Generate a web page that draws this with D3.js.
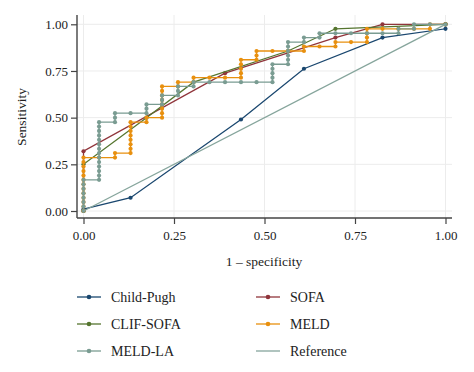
<!DOCTYPE html>
<html>
<head>
<meta charset="utf-8">
<script src="https://cdn.jsdelivr.net/npm/d3@7"></script>
<style>
  body { margin: 0; background: #fff; }
  svg text { font-family: "Liberation Serif", "DejaVu Serif", serif; fill: #222; }
</style>
</head>
<body>
<div id="chart"></div>
<script>
// ROC points, [1 - specificity, sensitivity]
let childPugh = [[0, 0.01], [0.13, 0.071], [0.435, 0.49], [0.609, 0.762], [0.826, 0.929], [1, 0.976], [1, 1]];

let sofa = [[0, 0], [0, 0.32], [0.391, 0.738], [0.696, 0.929], [0.826, 1], [1, 1]];

let clifSofa = [[0, 0], [0, 0.25], [0.174, 0.5], [0.304, 0.69], [0.565, 0.857], [0.696, 0.976], [1, 1]];

let meld = [
  [0, 0], [0, 0.024], [0, 0.048], [0, 0.071], [0, 0.095], [0, 0.119], [0, 0.143], [0, 0.167],
  [0, 0.19], [0, 0.214], [0, 0.238], [0, 0.262], [0, 0.286], [0.043, 0.286], [0.087, 0.286],
  [0.087, 0.31], [0.13, 0.31], [0.13, 0.333], [0.13, 0.357], [0.13, 0.381], [0.13, 0.405],
  [0.13, 0.429], [0.13, 0.452], [0.13, 0.476], [0.174, 0.476], [0.174, 0.5], [0.217, 0.5],
  [0.217, 0.524], [0.217, 0.548], [0.217, 0.571], [0.217, 0.595], [0.217, 0.619], [0.217, 0.643],
  [0.217, 0.667], [0.261, 0.667], [0.261, 0.69], [0.304, 0.69], [0.304, 0.714], [0.348, 0.714],
  [0.391, 0.714], [0.435, 0.714], [0.435, 0.738], [0.435, 0.762], [0.435, 0.786], [0.435, 0.81],
  [0.478, 0.81], [0.478, 0.833], [0.478, 0.857], [0.522, 0.857], [0.565, 0.857], [0.609, 0.857],
  [0.609, 0.881], [0.652, 0.881], [0.696, 0.881], [0.696, 0.905], [0.739, 0.905], [0.783, 0.905],
  [0.783, 0.929], [0.783, 0.952], [0.783, 0.976], [0.826, 0.976], [0.87, 0.976], [0.913, 0.976],
  [0.957, 0.976], [0.957, 1], [1, 1]
];

let meldLa = [
  [0, 0], [0, 0.024], [0, 0.048], [0, 0.071], [0, 0.095], [0, 0.119], [0, 0.143], [0, 0.167],
  [0.043, 0.167], [0.043, 0.19], [0.043, 0.214], [0.043, 0.238], [0.043, 0.262], [0.043, 0.286],
  [0.043, 0.31], [0.043, 0.333], [0.043, 0.357], [0.043, 0.381], [0.043, 0.405], [0.043, 0.429],
  [0.043, 0.452], [0.043, 0.476], [0.087, 0.476], [0.087, 0.5], [0.087, 0.524], [0.13, 0.524],
  [0.174, 0.524], [0.174, 0.548], [0.174, 0.571], [0.217, 0.571], [0.217, 0.595], [0.217, 0.619],
  [0.261, 0.619], [0.261, 0.643], [0.261, 0.667], [0.304, 0.667], [0.304, 0.69], [0.348, 0.69],
  [0.391, 0.69], [0.435, 0.69], [0.478, 0.69], [0.522, 0.69], [0.522, 0.714], [0.522, 0.738],
  [0.522, 0.762], [0.522, 0.786], [0.565, 0.786], [0.565, 0.81], [0.565, 0.833], [0.565, 0.857],
  [0.565, 0.881], [0.565, 0.905], [0.609, 0.905], [0.609, 0.929], [0.652, 0.929], [0.652, 0.952],
  [0.696, 0.952], [0.739, 0.952], [0.783, 0.952], [0.826, 0.952], [0.87, 0.952], [0.87, 0.976],
  [0.913, 0.976], [0.913, 1], [0.957, 1], [1, 1]
];

let reference = [[0, 0], [1, 1]];

let ticks = [0, 0.25, 0.5, 0.75, 1];

let series = [
  { name: "Child-Pugh", pts: childPugh, color: "#1a476f", marks: true },
  { name: "SOFA", pts: sofa, color: "#90353b", marks: true },
  { name: "CLIF-SOFA", pts: clifSofa, color: "#55752f", marks: true },
  { name: "MELD", pts: meld, color: "#e8900f", marks: true },
  { name: "MELD-LA", pts: meldLa, color: "#7a9c92", marks: true },
  { name: "Reference", pts: reference, color: "#86a59c", marks: false }
];

let W = 474, H = 372;

let svg = d3.select("#chart").append("svg")
  .attr("width", W)
  .attr("height", H);

let x = d3.scaleLinear().domain([0, 1]).range([83.5, 445.5]);
let y = d3.scaleLinear().domain([0, 1]).range([211, 24.3]);

let plotLeft = 77, plotRight = 452, plotTop = 15, plotBottom = 218;

// grid
svg.append("g").selectAll("line.gy").data(ticks).enter().append("line")
  .attr("x1", plotLeft).attr("x2", plotRight)
  .attr("y1", (d) => y(d)).attr("y2", (d) => y(d))
  .attr("stroke", "#ececec").attr("stroke-width", 1);
svg.append("g").selectAll("line.gx").data(ticks).enter().append("line")
  .attr("y1", plotTop).attr("y2", plotBottom)
  .attr("x1", (d) => x(d)).attr("x2", (d) => x(d))
  .attr("stroke", "#ececec").attr("stroke-width", 1);

// axes
let fmt = d3.format(".2f");
let yAxis = svg.append("g")
  .attr("transform", "translate(" + plotLeft + ",0)")
  .call(d3.axisLeft(y).tickValues(ticks).tickFormat(fmt).tickSizeOuter(0).tickSize(6).tickPadding(3));
let xAxis = svg.append("g")
  .attr("transform", "translate(0," + plotBottom + ")")
  .call(d3.axisBottom(x).tickValues(ticks).tickFormat(fmt).tickSizeOuter(0).tickSize(6).tickPadding(7));

[xAxis, yAxis].forEach((a) => {
  a.select(".domain").attr("stroke", "#444").attr("stroke-width", 1.4);
  a.selectAll(".tick line").attr("stroke", "#444").attr("stroke-width", 1.2);
  a.selectAll(".tick text").attr("font-size", 13).attr("font-family", "Liberation Serif").attr("fill", "#222");
});
yAxis.select(".domain").attr("d", "M0," + plotTop + "V" + plotBottom);
xAxis.select(".domain").attr("d", "M" + plotLeft + ",0H" + plotRight);

// axis titles
svg.append("text")
  .attr("transform", "translate(26,117) rotate(-90)")
  .attr("text-anchor", "middle")
  .attr("font-size", 13.5)
  .text("Sensitivity");
svg.append("text")
  .attr("x", 264).attr("y", 266)
  .attr("text-anchor", "middle")
  .attr("font-size", 13.5)
  .text("1 \u2013 specificity");

// curves
let line = d3.line().x((d) => x(d[0])).y((d) => y(d[1]));

series.forEach((s) => {
  let g = svg.append("g");
  g.append("path")
    .datum(s.pts)
    .attr("d", line)
    .attr("fill", "none")
    .attr("stroke", s.color)
    .attr("stroke-width", 1.3);
  if (s.marks) {
    g.selectAll("circle").data(s.pts).enter().append("circle")
      .attr("cx", (d) => x(d[0]))
      .attr("cy", (d) => y(d[1]))
      .attr("r", 2.1)
      .attr("fill", s.color);
  }
});

// legend
let legendX = [77, 256];
let legendY = [297, 324, 351];
series.forEach((s, i) => {
  let lx = legendX[i % 2], ly = legendY[Math.floor(i / 2)];
  let g = svg.append("g");
  g.append("line")
    .attr("x1", lx).attr("x2", lx + 24)
    .attr("y1", ly).attr("y2", ly)
    .attr("stroke", s.color).attr("stroke-width", 1.3);
  if (s.marks) {
    g.append("circle").attr("cx", lx + 12).attr("cy", ly).attr("r", 2.3).attr("fill", s.color);
  }
  g.append("text")
    .attr("x", lx + 34).attr("y", ly + 5)
    .attr("font-size", 14)
    .text(s.name);
});
</script>
</body>
</html>
